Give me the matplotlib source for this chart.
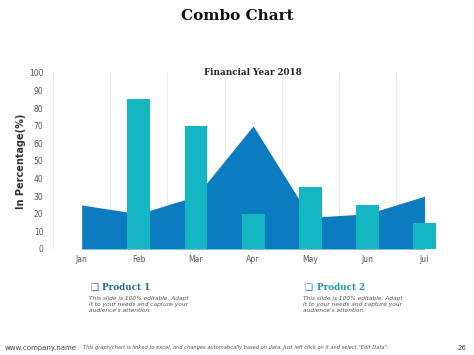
import matplotlib.pyplot as plt
import numpy as np

months = ['Jan', 'Feb', 'Mar', 'Apr', 'May', 'Jun', 'Jul']
area_vals = [25, 20, 30, 70, 18, 20, 30]      # Product 2 (area)
bar_vals = [0, 85, 70, 20, 35, 25, 15]        # Product 1 (columns)
yticks = list(range(0, 101, 10))

area_color = '#0b7cbf'
bar_color = '#14b6c2'

fig = plt.figure(figsize=(4.74, 3.55), dpi=100)
ax = fig.add_axes([0.112, 0.2986, 0.844, 0.4958])

x = np.arange(len(months))
ax.fill_between(x, area_vals, 0, color=area_color, linewidth=0, zorder=2)
ax.bar(x, bar_vals, width=0.4, color=bar_color, linewidth=0, zorder=3)

ax.set_xlim(-0.5, len(months) - 0.5)
ax.set_ylim(0, 100)
ax.set_yticks(yticks)
ax.set_xticks(x)
ax.set_xticklabels(months)
for b in np.arange(-0.5, len(months), 1.0):
    ax.axvline(b, color='#ececec', linewidth=0.7, zorder=1)
for s in ax.spines.values():
    s.set_visible(False)
ax.tick_params(length=0, labelsize=5.5, labelcolor='#555555', pad=4)
ax.tick_params(axis='y', pad=7)
ax.set_ylabel('In Percentage(%)', fontsize=7, fontweight='bold', color='#333333')
ax.yaxis.set_label_coords(-0.067, 0.5)

ax.text(0.5, 1.0, 'Financial Year 2018', transform=ax.transAxes, ha='center', va='center',
        family='DejaVu Serif', fontweight='bold', fontsize=6.3, color='#222222')

fig.text(0.5, 0.955, 'Combo Chart', ha='center', va='center',
         family='DejaVu Serif', fontweight='bold', fontsize=11, color='#111111')

# legend / notes below the chart
desc = "This slide is 100% editable. Adapt\nit to your needs and capture your\naudience's attention."
fig.text(0.19, 0.19, '\u2751', ha='left', va='center', family='DejaVu Sans', fontsize=6.5, color='#1f5f8b')
fig.text(0.216, 0.19, 'Product 1', ha='left', va='center', family='DejaVu Serif',
         fontweight='bold', fontsize=6.3, color='#1f6a9a')
fig.text(0.188, 0.165, desc, ha='left', va='top', fontsize=4.2, style='italic',
         color='#555555', linespacing=1.25)
fig.text(0.642, 0.19, '\u2751', ha='left', va='center', family='DejaVu Sans', fontsize=6.5, color='#168a98')
fig.text(0.668, 0.19, 'Product 2', ha='left', va='center', family='DejaVu Serif',
         fontweight='bold', fontsize=6.3, color='#1a9aa8')
fig.text(0.64, 0.165, desc, ha='left', va='top', fontsize=4.2, style='italic',
         color='#555555', linespacing=1.25)

# footer
fig.text(0.01, 0.02, 'www.company.name', ha='left', va='center', fontsize=5, color='#444444')
fig.text(0.175, 0.02, 'This graph/chart is linked to excel, and changes automatically based on data. '
         'Just left click on it and select "Edit Data".', ha='left', va='center',
         fontsize=3.7, style='italic', color='#555555')
fig.text(0.985, 0.02, '26', ha='right', va='center', fontsize=5, color='#444444')

fig.savefig('out.png', dpi=100)
